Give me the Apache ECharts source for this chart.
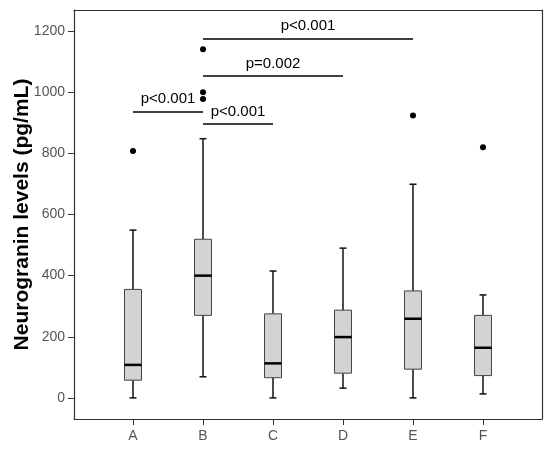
<!DOCTYPE html>
<html>
<head>
<meta charset="utf-8">
<script src="https://cdn.jsdelivr.net/npm/echarts@6/dist/echarts.min.js"></script>
<style>
html, body { margin: 0; padding: 0; background: #fff; }
#main { width: 550px; height: 450px; }
</style>
</head>
<body>
<div id="main"></div>
<script>
// data
var categories = ['A', 'B', 'C', 'D', 'E', 'F'];
var whiskerLow = [0, 69, 0, 32, 0, 13];
var quartile1 = [58, 270, 66, 81, 94, 73];
var medians = [108, 400, 113, 199, 259, 164];
var quartile3 = [355, 519, 275, 287, 350, 270];
var whiskerHigh = [549, 848, 415, 490, 699, 337];
var outlierGroup = [0, 1, 1, 1, 4, 5];
var outlierValue = [808, 1141, 1000, 978, 924, 820];
var yTicks = [0, 200, 400, 600, 800, 1000, 1200];
var bracketFrom = [0, 1, 1, 1];
var bracketTo = [1, 2, 3, 4];
var bracketLevel = [936, 896, 1053, 1175];
var bracketText = ['p<0.001', 'p<0.001', 'p=0.002', 'p<0.001'];

var font = 'Liberation Sans, Arial, sans-serif';

var boxData = [];
for (var i = 0; i < categories.length; i++) {
	boxData.push([i, whiskerLow[i], quartile1[i], medians[i], quartile3[i], whiskerHigh[i]]);
}
var outliers = [];
for (var j = 0; j < outlierValue.length; j++) {
	outliers.push([outlierGroup[j], outlierValue[j]]);
}
var brackets = [];
for (var k = 0; k < bracketText.length; k++) {
	brackets.push([
		{ name: bracketText[k], coord: [bracketFrom[k], bracketLevel[k]] },
		{ coord: [bracketTo[k], bracketLevel[k]] }
	]);
}
var xTicks = categories.map(function (c, i) { return i; });

// 箱线图：盒子、须、中位线
function renderBox(params, api) {
	var x = api.value(0);
	var lo = api.coord([x, api.value(1)]);
	var q1 = api.coord([x, api.value(2)]);
	var md = api.coord([x, api.value(3)]);
	var q3 = api.coord([x, api.value(4)]);
	var hi = api.coord([x, api.value(5)]);
	var cx = lo[0], half = 8.5, cap = 3.5;
	var whisker = { stroke: '#111', lineWidth: 1.5 };
	return {
		type: 'group',
		children: [
			{ type: 'line', shape: { x1: cx, y1: lo[1], x2: cx, y2: q1[1] }, style: whisker },
			{ type: 'line', shape: { x1: cx, y1: q3[1], x2: cx, y2: hi[1] }, style: whisker },
			{ type: 'line', shape: { x1: cx - cap, y1: lo[1], x2: cx + cap, y2: lo[1] }, style: whisker },
			{ type: 'line', shape: { x1: cx - cap, y1: hi[1], x2: cx + cap, y2: hi[1] }, style: whisker },
			{
				type: 'rect',
				shape: { x: cx - half, y: q3[1], width: half * 2, height: q1[1] - q3[1] },
				style: { fill: '#d3d3d3', stroke: '#444', lineWidth: 1 }
			},
			{ type: 'line', shape: { x1: cx - half, y1: md[1], x2: cx + half, y2: md[1] }, style: { stroke: '#000', lineWidth: 2.5 } }
		]
	};
}

// 边框用的上、右坐标轴，只画轴线
var frameAxis = {
	type: 'value',
	min: -69,
	max: 1269,
	splitLine: { show: false },
	axisLine: { show: true, onZero: false, lineStyle: { color: '#333', width: 1.2 } },
	axisTick: { show: false },
	axisLabel: { show: false }
};

var myChart = echarts.init(document.getElementById('main'));
var option = {
	animation: false,
	textStyle: { fontFamily: font },
	grid: {
		left: 74, right: 8, top: 10, bottom: 31,
		outerBoundsMode: 'none',
		containLabel: false
	},
	xAxis: [
		{
			type: 'value',
			min: -0.843,
			max: 5.843,
			splitLine: { show: false },
			axisLine: { onZero: false, lineStyle: { color: '#333', width: 1.2 } },
			axisTick: { show: true, customValues: xTicks, length: 6, lineStyle: { color: '#333' } },
			axisLabel: {
				customValues: xTicks,
				margin: 10,
				color: '#555',
				fontSize: 14,
				fontFamily: font,
				formatter: function (v) { return categories[Math.round(v)]; }
			}
		},
		Object.assign({}, frameAxis, { position: 'top', min: -0.843, max: 5.843 })
	],
	yAxis: [
		{
			type: 'value',
			min: -69,
			max: 1269,
			name: 'Neurogranin levels (pg/mL)',
			nameLocation: 'middle',
			nameGap: 41,
			nameMoveOverlap: false,
			nameTextStyle: { color: '#000', fontSize: 21, fontWeight: 'bold', fontFamily: font },
			splitLine: { show: false },
			axisLine: { show: true, onZero: false, lineStyle: { color: '#333', width: 1.2 } },
			axisTick: { show: true, customValues: yTicks, length: 6, lineStyle: { color: '#333' } },
			axisLabel: {
				customValues: yTicks,
				margin: 9,
				color: '#555',
				fontSize: 14,
				fontFamily: font,
				formatter: function (v) { return String(v); }
			}
		},
		Object.assign({}, frameAxis, { position: 'right' })
	],
	series: [
		{
			type: 'custom',
			renderItem: renderBox,
			encode: { x: 0, y: [1, 2, 3, 4, 5] },
			data: boxData,
			z: 2
		},
		{
			type: 'scatter',
			symbol: 'circle',
			symbolSize: 6,
			itemStyle: { color: '#000', opacity: 1 },
			data: outliers,
			z: 3,
			markLine: {
				silent: true,
				symbol: ['none', 'none'],
				lineStyle: { color: '#000', width: 1.5, type: 'solid' },
				label: {
					show: true,
					position: 'middle',
					formatter: '{b}',
					color: '#000',
					fontSize: 15,
					fontFamily: font,
					distance: 5
				},
				data: brackets
			}
		}
	]
};
myChart.setOption(option);
</script>
</body>
</html>
